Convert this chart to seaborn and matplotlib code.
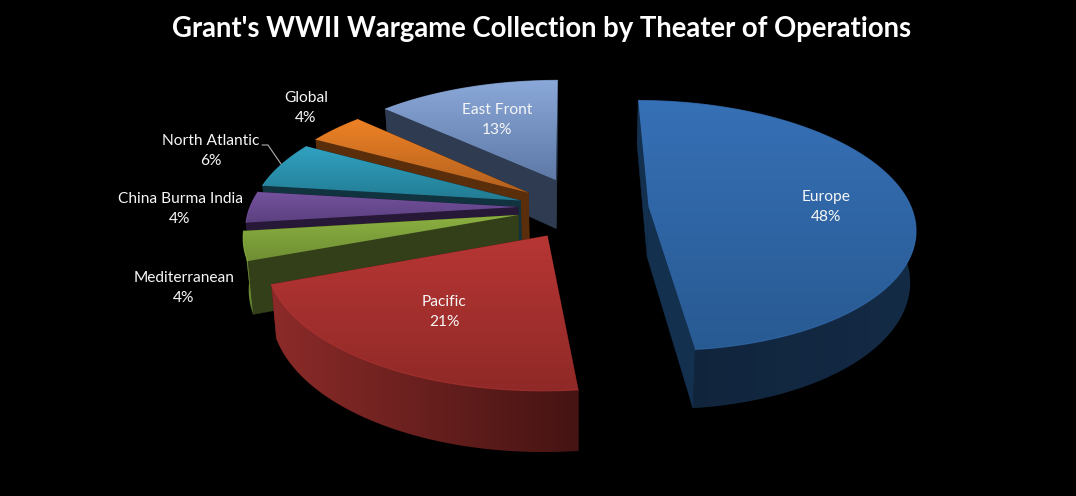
import numpy as np
import seaborn as sns
import matplotlib.pyplot as plt
from matplotlib.patches import Polygon

categories = ["Europe", "Pacific", "Mediterranean", "China Burma India", "North Atlantic", "Global", "East Front"]
shares = [48.3, 21.0, 3.7, 4.0, 6.0, 4.0, 13.0]

# pie explosion per slice, in radius units
explode = [0.23, 0.29, 0.27, 0.27, 0.27, 0.27, 0.29]
nudge_x = [-0.008, 0.0, 0.0, 0.005, 0.0, -0.01, -0.01]
nudge_y = [-0.01, 0.02, 0.0, 0.0, -0.03, -0.04, -0.04]
radius_x = [0.98, 1.0, 1.0, 1.0, 1.0, 1.0, 1.0]

top_light = ["#3670b6", "#b73634", "#8cb142", "#74529e", "#31a2c2", "#ee8225", "#8aa8d9"]
top_dark = ["#285a92", "#8f2927", "#6f8e33", "#5b407f", "#227b92", "#b2601f", "#5e79a6"]
wall_color = ["#14304f", "#5a1a18", "#333f19", "#261836", "#10333f", "#5a2e0b", "#2e3b50"]
side_left = ["#10233a", "#8c2b29", "#84a83f", "#3a2652", "#17485a", "#7a3f10", "#3a4a66"]
side_right = ["#142b46", "#451413", "#5a742b", "#261836", "#10333f", "#5a2e0b", "#2e3b50"]

label_xy = [(826, 207), (444, 312), (184, 288), (180, 209), (211, 151), (306, 108), (497, 120)]

# camera for the fake 3d look
VX, VY = 570, -608
A, B, C = 268, 815, 50
K = 0.15
X0 = 0.071
LEAN = 0.017

layer = [2]


def project(x, y, z=0.0):
    w = 1 + K * y
    return VX + A * (X0 + x) * (1 - LEAN * z) / w, VY + (B + C * z) / w


def gradient_fill(ax, pts, first, last, horizontal=False):
    cmap = sns.blend_palette([first, last], as_cmap=True)
    x0, x1 = pts[:, 0].min(), pts[:, 0].max()
    y0, y1 = pts[:, 1].min(), pts[:, 1].max()
    ramp = np.linspace(0, 1, 256)
    ramp = ramp[None, :] if horizontal else ramp[:, None]
    layer[0] += 1
    im = ax.imshow(
        ramp,
        cmap=cmap,
        aspect="auto",
        extent=(x0, x1, y1, y0),
        interpolation="bilinear",
        zorder=layer[0],
    )
    clip = Polygon(pts, closed=True, transform=ax.transData, fc="none", ec="none")
    ax.add_patch(clip)
    im.set_clip_path(clip)


def draw_slice(ax, i, t0, t1):
    mid = (t0 + t1) / 2
    cx = explode[i] * np.sin(mid) + nudge_x[i]
    cy = explode[i] * np.cos(mid) + nudge_y[i]
    t = np.linspace(t0, t1, 90)
    arc_x = cx + radius_x[i] * np.sin(t)
    arc_y = cy + np.cos(t)
    sx, sy = project(arc_x, arc_y)
    bx, by = project(arc_x, arc_y, 1)
    side = np.vstack([np.column_stack([sx, sy]), np.column_stack([bx, by])[::-1]])

    # back slices show the walls over the outer side, front ones the other way
    back = np.cos(mid) > -0.01
    if back:
        gradient_fill(ax, side, side_left[i], side_right[i], horizontal=True)

    for edge in (0, -1):
        quad = [
            project(cx, cy),
            project(arc_x[edge], arc_y[edge]),
            project(arc_x[edge], arc_y[edge], 1),
            project(cx, cy, 1),
        ]
        layer[0] += 1
        ax.add_patch(Polygon(quad, closed=True, fc=wall_color[i], ec=wall_color[i], lw=0.3, zorder=layer[0]))

    if not back:
        gradient_fill(ax, side, side_left[i], side_right[i], horizontal=True)

    # top face
    pts = np.vstack([[project(cx, cy)], np.column_stack([sx, sy])])
    gradient_fill(ax, pts, top_light[i], top_dark[i])
    layer[0] += 1
    ax.plot(sx, sy, color=top_light[i], lw=0.8, alpha=0.7, zorder=layer[0])


sns.set_style("dark", {"axes.facecolor": "black", "figure.facecolor": "black"})
plt.rcParams["font.family"] = ["Lato", "DejaVu Sans"]

fig = plt.figure(figsize=(10.76, 4.96), dpi=100)
ax = fig.add_axes([0, 0, 1, 1])
ax.set_facecolor("black")

edges = np.radians(np.cumsum([0] + shares) * 3.6)

# back to front
for i in [6, 5, 4, 3, 2, 1, 0]:
    draw_slice(ax, i, edges[i], edges[i + 1])

ax.plot([262, 268, 281], [145, 145, 164], color="#b0b0b0", lw=0.8, zorder=1000)

for name, share, (lx, ly) in zip(categories, shares, label_xy):
    ax.text(lx, ly, f"{name}\n{share:.0f}%", color="#f6f6f6", fontsize=11.2, ha="center", va="center", linespacing=1.55, zorder=1000)

ax.text(
    542,
    29,
    "Grant's WWII Wargame Collection by Theater of Operations",
    color="white",
    fontsize=19.8,
    fontweight="bold",
    ha="center",
    va="center",
)

ax.set_xlim(0, 1076)
ax.set_ylim(496, 0)
ax.axis("off")
fig.savefig("out.png", dpi=100, facecolor="black")
